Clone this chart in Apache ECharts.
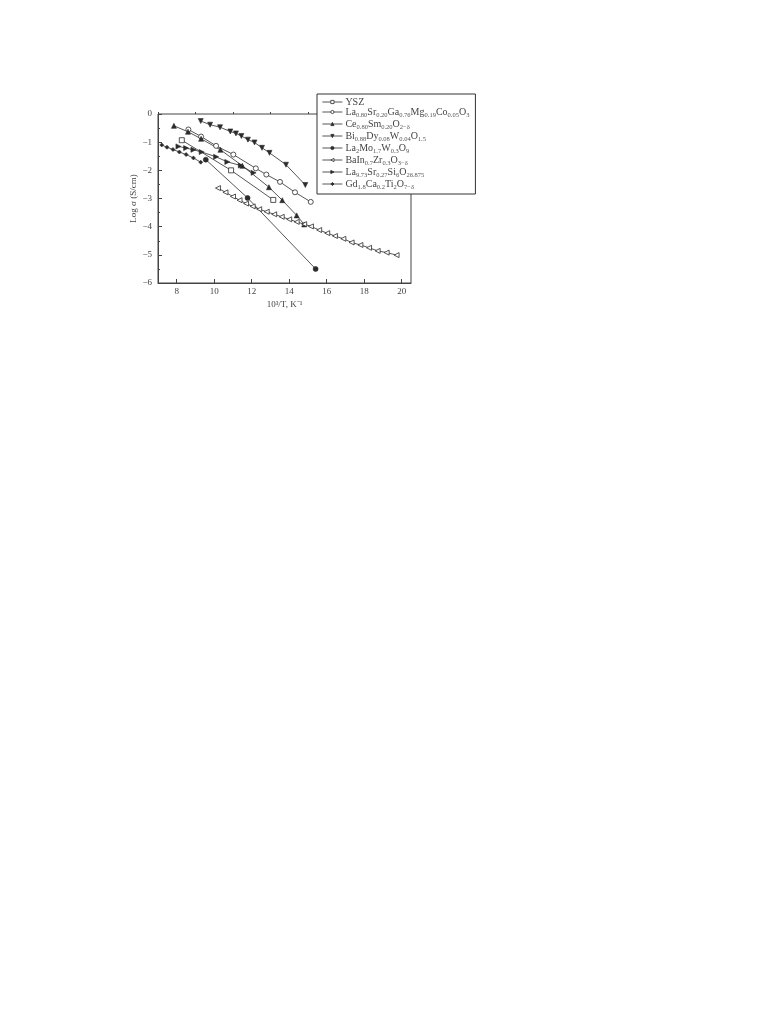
<!DOCTYPE html>
<html>
<head>
<meta charset="utf-8">
<script src="https://cdn.jsdelivr.net/npm/echarts@6/dist/echarts.min.js"></script>
<style>
html,body{margin:0;padding:0;background:#fff;}
#chart{width:768px;height:1024px;}
</style>
</head>
<body>
<div id="chart"></div>
<script>
// ---- data (x = 10^3/T [K^-1], y = log sigma [S/cm]) ----
const xTickLabels = [8, 10, 12, 14, 16, 18, 20];
const xMinorTicks = [7, 9, 11, 13, 15, 17, 19];

const ysz = [[8.27,-0.93],[10.9,-2.0],[13.15,-3.05]];
const lsgmc = [[8.62,-0.55],[9.3,-0.8],[10.1,-1.13],[11.02,-1.44],[12.22,-1.93],[12.78,-2.15],[13.51,-2.41],[14.31,-2.78],[15.15,-3.12]];
const cso = [[7.85,-0.42],[8.6,-0.63],[9.3,-0.88],[10.33,-1.27],[11.5,-1.84],[12.92,-2.6],[13.63,-3.06],[14.4,-3.6],[14.8,-3.92]];
const bdw = [[9.28,-0.25],[9.78,-0.38],[10.31,-0.47],[10.86,-0.62],[11.16,-0.69],[11.45,-0.78],[11.8,-0.91],[12.15,-1.01],[12.55,-1.2],[12.95,-1.38],[13.83,-1.8],[14.86,-2.52]];
const lamow = [[9.55,-1.62],[11.78,-2.98],[15.41,-5.5]];
const bizr = [[10.2,-2.63],[10.6,-2.78],[11.0,-2.93],[11.35,-3.06],[11.7,-3.18],[12.05,-3.28],[12.4,-3.38],[12.8,-3.47],[13.2,-3.56],[13.6,-3.65],[14.0,-3.74],[14.4,-3.83],[14.8,-3.91],[15.16,-3.99],[15.6,-4.12],[16.03,-4.23],[16.44,-4.33],[16.89,-4.43],[17.33,-4.56],[17.8,-4.65],[18.26,-4.75],[18.72,-4.86],[19.2,-4.92],[19.73,-5.01]];
const lss = [[8.09,-1.15],[8.5,-1.21],[8.89,-1.27],[9.33,-1.35],[10.1,-1.52],[10.7,-1.7],[11.42,-1.83],[12.1,-2.09]];
const gct = [[7.2,-1.1],[7.48,-1.18],[7.8,-1.26],[8.14,-1.35],[8.5,-1.44],[8.89,-1.56],[9.28,-1.71]];

// legend names (plain) and rich-text versions with subscripts
const names = ['YSZ','LSGMC','CSO','BDW','LaMoW','BIZ','LSS','GCT'];
const legendParts = {
  YSZ: [['YSZ','']],
  LSGMC: [['La','0.80'],['Sr','0.20'],['Ga','0.76'],['Mg','0.19'],['Co','0.05'],['O','3']],
  CSO: [['Ce','0.80'],['Sm','0.20'],['O','2\u2212\u03b4']],
  BDW: [['Bi','0.88'],['Dy','0.08'],['W','0.04'],['O','1.5']],
  LaMoW: [['La','2'],['Mo','1.7'],['W','0.3'],['O','9']],
  BIZ: [['BaIn','0.7'],['Zr','0.3'],['O','3\u2212\u03b4']],
  LSS: [['La','9.73'],['Sr','0.27'],['Si','6'],['O','26.875']],
  GCT: [['Gd','1.8'],['Ca','0.2'],['Ti','2'],['O','7\u2212\u03b4']]
};

const INK = '#2b2b2b';
const FONT = 'Liberation Serif';

function mk(name, data, symbol, filled, size) {
  return {
    name: name, type: 'line', data: data, xAxisIndex: 0, yAxisIndex: 0,
    symbol: symbol, symbolSize: size || 5, showSymbol: true,
    lineStyle: {color: INK, width: 0.8},
    itemStyle: filled ? {color: INK, borderColor: INK, borderWidth: 0.6}
                      : {color: '#fff', borderColor: INK, borderWidth: 0.8},
    emphasis: {disabled: true}, animation: false, z: 3
  };
}
const TRI_DOWN = 'path://M0,0 L10,0 L5,9 Z';
const TRI_RIGHT = 'path://M0,0 L9,5 L0,10 Z';
const TRI_LEFT = 'path://M0,5 L9,0 L9,10 Z';

const chart = echarts.init(document.getElementById('chart'), null, {renderer: 'canvas'});
chart.setOption({
  backgroundColor: '#fff',
  animation: false,
  textStyle: {fontFamily: FONT},
  grid: {left: 158, right: 357, top: 114, bottom: 741, show: true, borderColor: '#444', borderWidth: 1, containLabel: false},
  xAxis: [{
    type: 'value', min: 7, max: 20.5, position: 'bottom',
    name: '10\u00b3/T, K\u207b\u00b9', nameLocation: 'middle', nameGap: 17,
    nameTextStyle: {fontFamily: FONT, fontSize: 9, color: '#444'},
    axisLine: {show: true, onZero: false, lineStyle: {color: '#444', width: 1}},
    axisTick: {show: true, inside: true, length: 4, customValues: xTickLabels, lineStyle: {color: '#444'}},
    axisLabel: {customValues: xTickLabels, fontFamily: FONT, fontSize: 9, color: '#444', margin: 4},
    splitLine: {show: false}
  }, {
    type: 'value', min: 7, max: 20.5, position: 'bottom',
    axisLine: {show: false},
    axisTick: {show: true, inside: true, length: 2, customValues: xMinorTicks, lineStyle: {color: '#444'}},
    axisLabel: {show: false},
    splitLine: {show: false}
  }],
  yAxis: {
    type: 'value', min: -6, max: 0, interval: 1,
    name: 'Log \u03c3 (S/cm)', nameLocation: 'middle', nameGap: 17, nameRotate: 90,
    nameTextStyle: {fontFamily: FONT, fontSize: 9, color: '#444'},
    axisLine: {show: true, onZero: false, lineStyle: {color: '#444', width: 1}},
    axisTick: {show: true, inside: true, length: 4, lineStyle: {color: '#444'}},
    minorTick: {show: true, splitNumber: 2, length: 2, lineStyle: {color: '#444'}},
    axisLabel: {fontFamily: FONT, fontSize: 9, color: '#444', margin: 6,
      formatter: v => (v < 0 ? '\u2212' + Math.abs(v) : String(v))},
    splitLine: {show: false}
  },
  legend: {
    orient: 'vertical', left: 317, top: 94,
    padding: [3, 6, 3, 5],
    backgroundColor: '#fff',
    borderColor: '#333', borderWidth: 1,
    itemWidth: 20, itemHeight: 4, itemGap: 0,
    selectedMode: false,
    data: names,
    lineStyle: {width: 0.8, color: INK},
    itemStyle: {borderWidth: 0.8},
    textStyle: {fontFamily: FONT, fontSize: 10, color: '#444', padding: [0,0,0,-2],
      rich: {
        m: {fontFamily: FONT, fontSize: 10, color: '#444', verticalAlign: 'bottom'},
        s: {fontFamily: FONT, fontSize: 6.5, color: '#555', verticalAlign: 'bottom', padding: [0,0,-2,0]}
      }},
    formatter: function(n) {
      return legendParts[n].map(p => '{m|' + p[0] + '}' + (p[1] ? '{s|' + p[1] + '}' : '')).join('');
    }
  },
  series: [
    mk('YSZ', ysz, 'rect', false, 5),
    mk('LSGMC', lsgmc, 'circle', false, 5),
    mk('CSO', cso, 'triangle', true, 5),
    mk('BDW', bdw, TRI_DOWN, true, 5),
    mk('LaMoW', lamow, 'circle', true, 5),
    mk('BIZ', bizr, TRI_LEFT, false, 5),
    mk('LSS', lss, TRI_RIGHT, true, 5),
    mk('GCT', gct, 'diamond', true, 4)
  ]
});
</script>
</body>
</html>
